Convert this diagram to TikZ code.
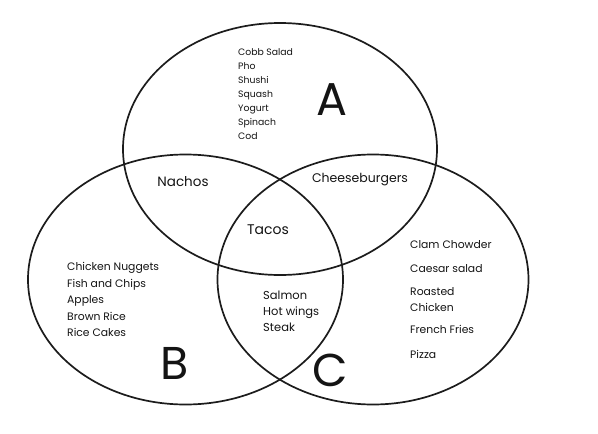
\documentclass[tikz,border=0pt]{standalone}
\usepackage{fontspec}
\setmainfont{Poppins}
\usepackage{tikz}
\usetikzlibrary{positioning}
\definecolor{VENNline}{HTML}{1C1C1C}
\definecolor{VENNtext}{HTML}{141414}

\begin{document}
\begin{tikzpicture}[x=1pt,y=-1pt,
  ring/.style={draw=VENNline, line width=1.7pt},
  food/.style={anchor=base west, inner sep=0pt, text=VENNtext, font=\fontsize{10.8}{12}\selectfont},
  setname/.style={inner sep=0pt, text=VENNtext, font=\fontsize{46}{46}\selectfont}]
\useasboundingbox (0,0) rectangle (598,434);
\fill[white] (0,0) rectangle (598,434);
% the three sets
\draw[ring] (280,149) ellipse [x radius=157, y radius=126];
\draw[ring] (185.5,279.5) ellipse [x radius=157.5, y radius=125];
\draw[ring] (373,279.5) ellipse [x radius=155.5, y radius=125];
\node[setname] (labA) at (332,100) {A};
\node[setname] (labB) at (175,363) {B};
\node[setname] (labC) at (330,370) {C};
% only in A
\foreach \i/\lab in {0/Cobb Salad,1/Pho,2/Shushi,3/Squash,4/Yogurt,5/Spinach,6/Cod}{
  \node[food, font=\fontsize{9.3}{10}\selectfont] (a\i) at (238,55.2+\i*14.1) {\lab};
}
% only in B
\foreach \i/\lab in {0/Chicken Nuggets,1/Fish and Chips,2/Apples,3/Brown Rice,4/Rice Cakes}{
  \node[food] (b\i) at (67,270.7+\i*16.5) {\lab};
}
% only in C
\foreach \y/\lab [count=\i] in {245/Clam Chowder,269/Caesar salad,292/Roasted,308/Chicken,330/French Fries,355/Pizza}{
  \node[food] (c\i) at (410,\y+3.7) {\lab};
}
% overlaps
\node[food, anchor=center, font=\fontsize{13.5}{14}\selectfont] (ab) at (183,182) {Nachos};
\node[food, anchor=center, font=\fontsize{12.5}{14}\selectfont] (ac) at (360,180) {Cheeseburgers};
\node[food, anchor=center, font=\fontsize{14}{14}\selectfont] (abc) at (268,230) {Tacos};
\foreach \i/\lab in {0/Salmon,1/Hot wings,2/Steak}{
  \node[food, font=\fontsize{11.5}{12}\selectfont] (bc\i) at (263,299.9+\i*16) {\lab};
}
\end{tikzpicture}
\end{document}
